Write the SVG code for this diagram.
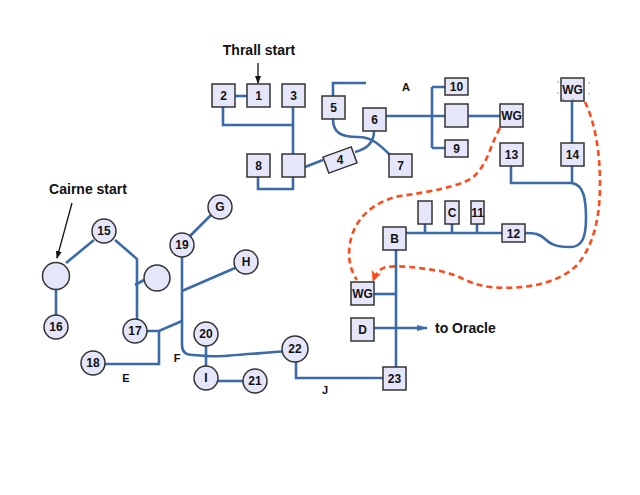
<svg xmlns="http://www.w3.org/2000/svg" width="640" height="495" viewBox="0 0 640 495">
<style>
.n rect,.n circle{fill:#e6e6fa;stroke:#333;stroke-width:1.5}
.n text,.lb{font-family:"Liberation Sans",Arial,sans-serif;font-weight:bold;font-size:12px;text-anchor:middle;fill:#111}
.lb{font-size:11px}
.big{font-family:"Liberation Sans",Arial,sans-serif;font-weight:bold;font-size:14px;fill:#111}
.c path{fill:none;stroke:#3a6aa8;stroke-width:2.6}
.c path.r{fill:none;stroke:#ff4a1a;stroke-width:2.6;stroke-dasharray:6,4}
.c path.k{fill:none;stroke:#111;stroke-width:1.3}
</style>
<defs>
<marker id="ak" markerWidth="8" markerHeight="8" refX="7" refY="4" orient="auto" markerUnits="userSpaceOnUse"><path d="M0,1 L8,4 L0,7 Z" fill="#111"/></marker>
<marker id="ab" markerWidth="12" markerHeight="8" refX="10" refY="4" orient="auto" markerUnits="userSpaceOnUse"><path d="M0,1 L11,4 L0,7 Z" fill="#3a6aa8"/></marker>
<marker id="ar" markerWidth="12" markerHeight="12" refX="10" refY="6" orient="auto" markerUnits="userSpaceOnUse"><path d="M0,1 L11,6 L0,11 L3,6 Z" fill="#ff4a1a"/></marker>
</defs>
<rect width="640" height="495" fill="#fff"/>
<g class="c" id="connectors">
<path d="M235,96 H247"/>
<path d="M223,107 V125 H293"/>
<path d="M293,107 V154"/>
<path d="M258,177 V189 H293 V177"/>
<path d="M305,167 L323,160"/>
<path d="M355,152 C367,149 374,142 374,131"/>
<path d="M333,96 V83 H366"/>
<path d="M333,119 C333,132 340,137 358,137 C372,137 380,145 390,155"/>
<path d="M386,116 H445"/>
<path d="M468,116 H500"/>
<path d="M432,87 V148 M432,87 H445 M432,148 H445"/>
<path d="M572,101 V143"/>
<path d="M511,166 V183 H572 V166"/>
<path d="M572,183 C584,185 586,200 586,218 C586,238 582,247 570,247 C556,247 550,244 545,239 C540,234 535,233 525,233"/>
<path d="M406,233 H502 M425,224 V233 M452,224 V233 M477,224 V233"/>
<path d="M396,250 V367"/>
<path d="M374,294 H396"/>
<path d="M374,328 H427" marker-end="url(#ab)"/>
<path d="M296,362 V378 H383"/>
<path d="M66,263 L94,240"/>
<path d="M56,290 V315"/>
<path d="M115,240 L137,259 V319"/>
<path d="M135,285 L144,280"/>
<path d="M147,331 H159 L182,321"/>
<path d="M159,331 V364 H105"/>
<path d="M189,237 L211,215"/>
<path d="M182,257 V345 C182,352 186,355 193,355 C205,356 220,357 230,355.5 C245,354 265,353 282,351.5"/>
<path d="M182,291 L235,268"/>
<path d="M206,346 V366"/>
<path d="M218,381 H243"/>
<path class="k" d="M258,63 V83" marker-end="url(#ak)"/>
<path class="k" d="M72,203 L57,258" marker-end="url(#ak)"/>
<path class="r" d="M500,128 C490,145 488,165 472,178 C460,186 430,192 400,196 C380,200 360,212 352,235 C346,255 350,270 357,280"/>
<path class="r" d="M585,102 C596,125 600,155 600,185 C600,220 592,250 575,267 C555,285 520,290 490,287 C470,285 460,275 440,271 C420,268 400,265 387,267 C380,268 376,273 373,281" marker-end="url(#ar)"/>
</g>
<g class="n" id="n2"><rect x="212" y="84" width="23" height="23"/><text x="223.5" y="100">2</text></g>
<g class="n" id="n1"><rect x="247" y="84" width="23" height="23"/><text x="258.5" y="100">1</text></g>
<g class="n" id="n3"><rect x="282" y="84" width="23" height="23"/><text x="293.5" y="100">3</text></g>
<g class="n" id="n8"><rect x="247" y="154" width="23" height="23"/><text x="258.5" y="170">8</text></g>
<g class="n" id="u1"><rect x="282" y="154" width="23" height="23"/></g>
<g class="n" id="n4"><rect x="325" y="151.5" width="30" height="17" transform="rotate(-20 340 160)"/><text x="340" y="164">4</text></g>
<g class="n" id="n5"><rect x="322" y="96" width="23" height="23"/><text x="333.5" y="112">5</text></g>
<g class="n" id="n6"><rect x="363" y="108" width="23" height="23"/><text x="374.5" y="124">6</text></g>
<g class="n" id="n7"><rect x="389" y="154" width="23" height="23"/><text x="400.5" y="170">7</text></g>
<g class="n" id="n10"><rect x="445" y="78" width="23" height="17"/><text x="456.5" y="91">10</text></g>
<g class="n" id="u2"><rect x="445" y="104" width="23" height="23"/></g>
<g class="n" id="n9"><rect x="445" y="140" width="23" height="17"/><text x="456.5" y="153">9</text></g>
<g class="n" id="wg1"><rect x="500" y="104" width="23" height="23"/><text x="511.5" y="120">WG</text></g>
<g class="n" id="wg0"><rect x="561" y="78" width="23" height="23"/><text x="572.5" y="94">WG</text></g>
<g id="handles" fill="#999"><circle cx="558" cy="82" r="0.8"/><circle cx="589" cy="83" r="0.8"/><circle cx="558" cy="93" r="0.8"/><circle cx="589" cy="94" r="0.8"/><circle cx="563" cy="99" r="0.8"/><circle cx="573" cy="99" r="0.8"/></g>
<g class="n" id="n13"><rect x="500" y="143" width="23" height="23"/><text x="511.5" y="159">13</text></g>
<g class="n" id="n14"><rect x="561" y="143" width="23" height="23"/><text x="572.5" y="159">14</text></g>
<g class="n" id="u3"><rect x="418" y="201" width="14" height="23"/></g>
<g class="n" id="nC"><rect x="445" y="201" width="14" height="23"/><text x="452" y="217">C</text></g>
<g class="n" id="n11"><rect x="471" y="201" width="13" height="23"/><text x="477.5" y="217">11</text></g>
<g class="n" id="n12"><rect x="502" y="224" width="23" height="18"/><text x="513.5" y="237.5">12</text></g>
<g class="n" id="nB"><rect x="383" y="227" width="23" height="23"/><text x="394.5" y="243">B</text></g>
<g class="n" id="wg2"><rect x="351" y="282" width="23" height="23"/><text x="362.5" y="298">WG</text></g>
<g class="n" id="nD"><rect x="351" y="318" width="23" height="23"/><text x="362.5" y="334">D</text></g>
<g class="n" id="n23"><rect x="383" y="367" width="23" height="23"/><text x="394.5" y="383">23</text></g>
<g class="n" id="cs"><circle cx="56" cy="276" r="13.5"/></g>
<g class="n" id="n15"><circle cx="104" cy="231" r="12"/><text x="104" y="235">15</text></g>
<g class="n" id="n16"><circle cx="56" cy="327" r="12"/><text x="56" y="331">16</text></g>
<g class="n" id="u4"><circle cx="157" cy="278" r="13"/></g>
<g class="n" id="n17"><circle cx="135" cy="331" r="12"/><text x="135" y="335">17</text></g>
<g class="n" id="n18"><circle cx="93" cy="363" r="12"/><text x="93" y="367">18</text></g>
<g class="n" id="n19"><circle cx="182" cy="245" r="12"/><text x="182" y="249">19</text></g>
<g class="n" id="nG"><circle cx="220" cy="207" r="12"/><text x="220" y="211">G</text></g>
<g class="n" id="nH"><circle cx="246" cy="262" r="12"/><text x="246" y="266">H</text></g>
<g class="n" id="n20"><circle cx="206" cy="334" r="12"/><text x="206" y="338">20</text></g>
<g class="n" id="nI"><circle cx="206" cy="378" r="12"/><text x="206" y="382">I</text></g>
<g class="n" id="n21"><circle cx="255" cy="381" r="12"/><text x="255" y="385">21</text></g>
<g class="n" id="n22"><circle cx="295" cy="349" r="13"/><text x="295" y="353">22</text></g>
<text class="big" x="259" y="55" text-anchor="middle">Thrall start</text>
<text class="big" x="88" y="194" text-anchor="middle">Cairne start</text>
<text class="big" x="435" y="333">to Oracle</text>
<text class="lb" x="406" y="91">A</text>
<text class="lb" x="126" y="382">E</text>
<text class="lb" x="177" y="362">F</text>
<text class="lb" x="325" y="394">J</text>
</svg>
